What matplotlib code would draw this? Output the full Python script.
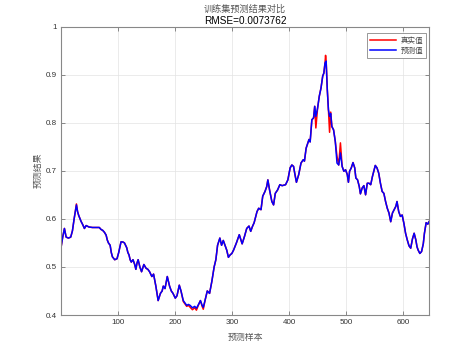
import matplotlib
matplotlib.use("Agg")
import matplotlib.pyplot as plt

# Données (échantillon, valeur)
x_samples = [1, 4, 7, 10, 14, 18, 21, 24, 28, 30, 32, 36, 39, 42, 45, 50, 56, 62, 68, 71,
             74, 77, 80, 82, 84, 87, 89, 91, 95, 99, 102, 106, 109, 112, 116, 118, 120, 122, 124, 127,
             130, 132, 134, 136, 139, 142, 146, 150, 153, 156, 160, 163, 167, 171, 175, 178, 180, 183, 187, 191,
             194, 197, 199, 201, 204, 208, 211, 215, 218, 221, 224, 227, 231, 235, 238, 243, 245, 248, 250, 253,
             257, 261, 265, 269, 272, 275, 279, 282, 285, 288, 291, 294, 297, 300, 303, 308, 313, 318, 322, 326,
             330, 333, 336, 339, 344, 347, 351, 354, 358, 361, 363, 366, 370, 373, 376, 380, 384, 388, 394, 398,
             402, 405, 408, 410, 413, 417, 421, 425, 427, 430, 435, 437, 440, 443, 445, 447, 450, 453, 456, 459,
             461, 463, 464, 465, 467, 469, 471, 473, 475, 478, 481, 484, 487, 490, 493, 496, 499, 502, 504, 506,
             509, 512, 515, 517, 520, 523, 525, 528, 531, 534, 537, 540, 543, 546, 549, 551, 554, 557, 560, 563,
             566, 569, 572, 575, 578, 581, 584, 587, 589, 592, 595, 598, 601, 604, 607, 610, 613, 616, 619, 622,
             624, 626, 629, 632, 635, 637, 640, 643, 645]

y_pred = [0.540, 0.562, 0.580, 0.562, 0.560, 0.562, 0.575, 0.600, 0.629, 0.615, 0.607, 0.595, 0.588, 0.580, 0.586, 0.583, 0.582, 0.582, 0.582, 0.578,
          0.576, 0.572, 0.566, 0.556, 0.550, 0.545, 0.530, 0.521, 0.515, 0.517, 0.530, 0.552, 0.552, 0.550, 0.540, 0.530, 0.525, 0.515, 0.510, 0.515,
          0.505, 0.495, 0.508, 0.515, 0.500, 0.490, 0.505, 0.497, 0.495, 0.490, 0.480, 0.485, 0.460, 0.430, 0.445, 0.450, 0.460, 0.455, 0.480, 0.460,
          0.450, 0.445, 0.440, 0.435, 0.440, 0.462, 0.450, 0.430, 0.425, 0.420, 0.422, 0.420, 0.415, 0.418, 0.414, 0.425, 0.430, 0.420, 0.416, 0.430,
          0.450, 0.445, 0.470, 0.500, 0.515, 0.545, 0.560, 0.545, 0.555, 0.545, 0.535, 0.520, 0.525, 0.528, 0.535, 0.550, 0.567, 0.548, 0.563, 0.580,
          0.585, 0.574, 0.584, 0.592, 0.615, 0.622, 0.619, 0.647, 0.657, 0.667, 0.681, 0.660, 0.636, 0.629, 0.653, 0.660, 0.671, 0.669, 0.671, 0.681,
          0.706, 0.712, 0.709, 0.695, 0.676, 0.692, 0.716, 0.723, 0.720, 0.747, 0.765, 0.760, 0.806, 0.810, 0.834, 0.813, 0.830, 0.855, 0.872, 0.897,
          0.903, 0.924, 0.926, 0.928, 0.869, 0.827, 0.813, 0.819, 0.792, 0.785, 0.761, 0.716, 0.712, 0.737, 0.709, 0.699, 0.702, 0.692, 0.676, 0.699,
          0.706, 0.717, 0.706, 0.685, 0.681, 0.667, 0.652, 0.664, 0.669, 0.650, 0.674, 0.674, 0.671, 0.688, 0.702, 0.711, 0.706, 0.695, 0.674, 0.657,
          0.653, 0.636, 0.622, 0.612, 0.594, 0.612, 0.619, 0.626, 0.636, 0.615, 0.605, 0.608, 0.591, 0.570, 0.556, 0.544, 0.539, 0.558, 0.570, 0.556,
          0.542, 0.535, 0.528, 0.532, 0.548, 0.570, 0.592, 0.589, 0.594]

y_true = [0.540, 0.562, 0.580, 0.562, 0.560, 0.562, 0.575, 0.600, 0.631, 0.615, 0.607, 0.595, 0.588, 0.580, 0.586, 0.583, 0.582, 0.582, 0.582, 0.578,
          0.576, 0.572, 0.566, 0.556, 0.550, 0.545, 0.530, 0.521, 0.515, 0.517, 0.530, 0.552, 0.552, 0.550, 0.540, 0.530, 0.525, 0.515, 0.510, 0.515,
          0.505, 0.495, 0.508, 0.515, 0.500, 0.490, 0.505, 0.497, 0.495, 0.490, 0.480, 0.485, 0.460, 0.430, 0.445, 0.450, 0.460, 0.455, 0.480, 0.460,
          0.450, 0.445, 0.440, 0.435, 0.440, 0.462, 0.450, 0.428, 0.423, 0.418, 0.420, 0.416, 0.411, 0.415, 0.410, 0.425, 0.430, 0.418, 0.412, 0.430,
          0.450, 0.445, 0.470, 0.500, 0.515, 0.545, 0.560, 0.545, 0.555, 0.545, 0.535, 0.520, 0.525, 0.528, 0.535, 0.550, 0.567, 0.548, 0.563, 0.580,
          0.585, 0.574, 0.584, 0.592, 0.615, 0.622, 0.619, 0.647, 0.657, 0.667, 0.681, 0.660, 0.636, 0.629, 0.653, 0.660, 0.671, 0.669, 0.671, 0.681,
          0.706, 0.712, 0.709, 0.695, 0.676, 0.692, 0.716, 0.723, 0.720, 0.747, 0.765, 0.760, 0.806, 0.810, 0.834, 0.789, 0.830, 0.855, 0.872, 0.897,
          0.903, 0.924, 0.940, 0.928, 0.869, 0.827, 0.780, 0.822, 0.792, 0.785, 0.761, 0.730, 0.712, 0.758, 0.709, 0.699, 0.702, 0.692, 0.676, 0.699,
          0.706, 0.717, 0.706, 0.685, 0.681, 0.667, 0.652, 0.664, 0.669, 0.650, 0.674, 0.674, 0.671, 0.688, 0.702, 0.711, 0.706, 0.695, 0.674, 0.657,
          0.653, 0.636, 0.622, 0.612, 0.594, 0.612, 0.619, 0.626, 0.636, 0.615, 0.605, 0.608, 0.591, 0.570, 0.556, 0.544, 0.539, 0.558, 0.570, 0.556,
          0.542, 0.535, 0.528, 0.532, 0.548, 0.570, 0.592, 0.589, 0.594]

rmse_text = "RMSE=0.0073762"
x_ticks = [100, 200, 300, 400, 500, 600]
y_ticks = [0.4, 0.5, 0.6, 0.7, 0.8, 0.9, 1.0]
y_tick_labels = ["0.4", "0.5", "0.6", "0.7", "0.8", "0.9", "1"]

cjk = ["Noto Sans CJK SC", "DejaVu Sans"]
latin = ["Liberation Sans", "DejaVu Sans"]

W, H = 474, 355
fig = plt.figure(figsize=(W / 100, H / 100), dpi=100)
fig.patch.set_facecolor("white")
ax = fig.add_axes([61 / W, 40 / H, 368 / W, 288.5 / H])

ax.plot(x_samples, y_true, color="red", lw=1.1, label="真实值")
ax.plot(x_samples, y_pred, color="blue", lw=1.1, label="预测值")

ax.set_xlim(1, 645)
ax.set_ylim(0.4, 1.0)
ax.set_xticks(x_ticks)
ax.set_yticks(y_ticks)
ax.set_yticklabels(y_tick_labels)
for lab in ax.get_xticklabels() + ax.get_yticklabels():
    lab.set_family(latin)
    lab.set_fontsize(5.8)
    lab.set_color("#333333")

ax.tick_params(direction="in", length=3, width=0.6, color="#777777", pad=3,
               top=True, right=True)
ax.grid(True, color="#e3e3e3", lw=0.5)
ax.set_axisbelow(True)
for sp in ax.spines.values():
    sp.set_color("#888888")
    sp.set_linewidth(0.8)

# titres et étiquettes (positions en pixels)
fig.text(0.5 * (61 + 429) / W, 1 - 9.5 / H, "训练集预测结果对比", family=cjk,
         fontsize=6.6, color="#555555", ha="center", va="center")
fig.text(0.5 * (61 + 429) / W, 1 - 20.5 / H, rmse_text, family=latin,
         fontsize=7.2, color="black", ha="center", va="center")
fig.text(0.5 * (61 + 429) / W, 1 - 337 / H, "预测样本", family=cjk,
         fontsize=6.4, color="#555555", ha="center", va="center")
fig.text(38 / W, 1 - 170 / H, "预测结果", family=cjk, rotation=90,
         fontsize=6.4, color="#555555", ha="center", va="center")

leg = ax.legend(loc="upper right", prop={"family": cjk, "size": 5.4},
                handlelength=3.4, handletextpad=0.6, borderpad=0.45,
                labelspacing=0.25, borderaxespad=0.35, fancybox=False,
                framealpha=1, bbox_to_anchor=(1.0, 0.985))
leg.get_frame().set_edgecolor("#888888")
leg.get_frame().set_linewidth(0.6)
for t in leg.get_texts():
    t.set_color("#444444")

fig.savefig("out.png", dpi=100)
